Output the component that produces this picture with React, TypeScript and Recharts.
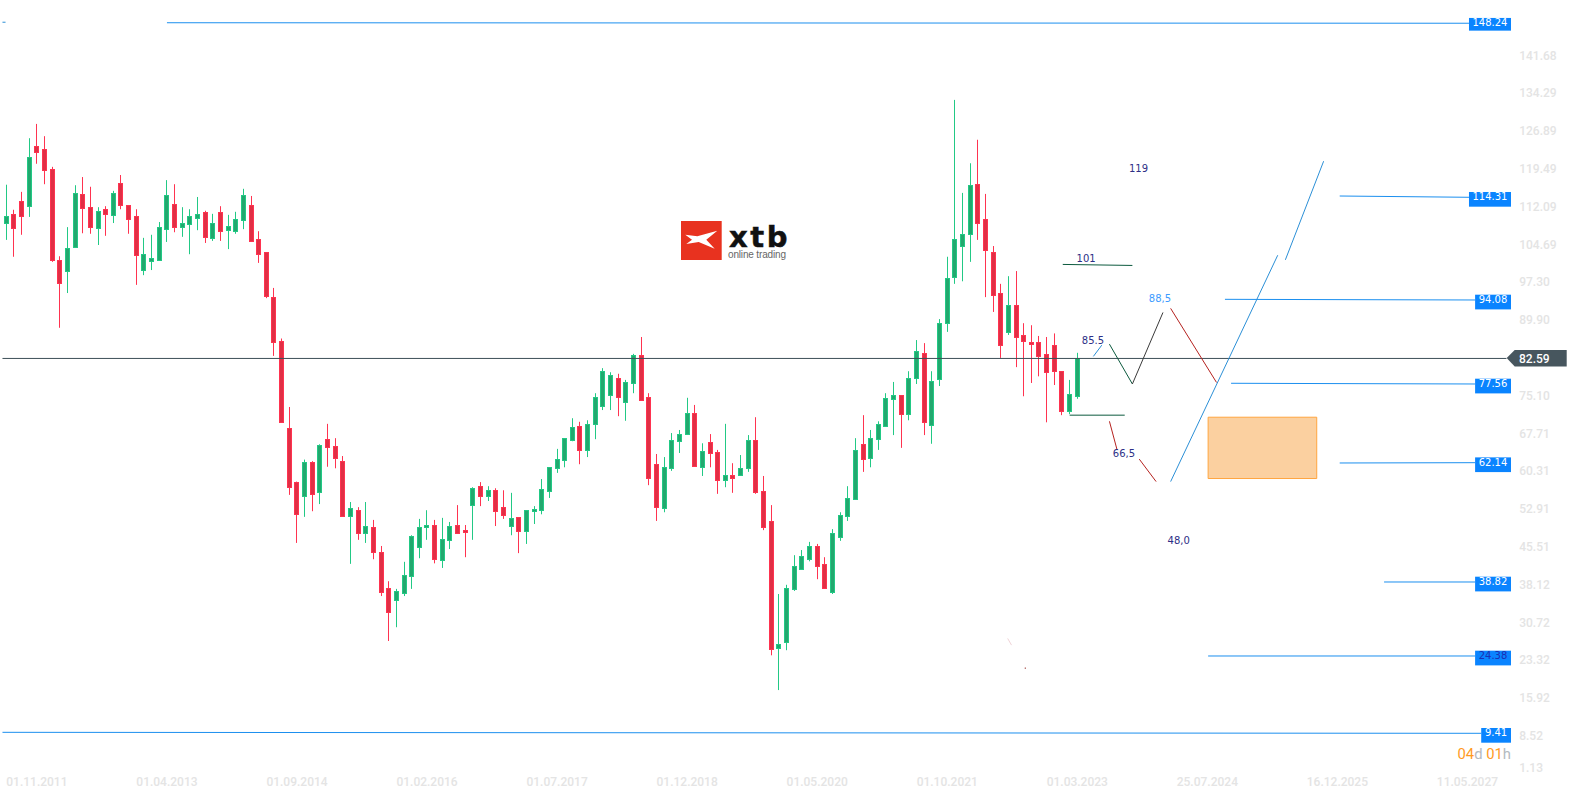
import React from "react";
import {
  ComposedChart,
  Bar,
  XAxis,
  YAxis,
  ReferenceLine,
  ReferenceDot,
  ReferenceArea,
} from "recharts";

// monthly candles, first one is 01.07.2011, last 01.03.2023
const opens = [
  109.1, 110.7, 113.3, 112.4, 124.0, 123.4, 119.5, 101.7, 99.7, 104.4,
  114.6, 112.1, 108.1, 111.7, 110.6, 116.8, 112.5, 110.3, 99.9, 101.6,
  101.8, 107.8, 112.7, 108.3, 108.9, 110.0, 111.1, 106.1, 111.1, 107.7,
  107.5, 109.5, 112.5, 105.8, 103.3, 94.5, 86.0, 68.8, 58.4, 55.6,
  62.2, 56.4, 66.7, 65.3, 62.4, 51.7, 52.8, 48.4, 49.6, 44.7,
  37.5, 35.3, 36.5, 40.0, 45.6, 49.6, 50.0, 43.1, 46.9, 50.0,
  49.0, 53.9, 57.5, 55.5, 56.7, 53.4, 49.8, 51.4, 48.8, 52.6,
  52.8, 56.6, 61.1, 62.6, 66.6, 69.2, 64.5, 69.6, 73.1, 75.3,
  78.6, 73.9, 77.6, 83.1, 74.9, 61.8, 53.3, 61.1, 66.4, 67.8,
  71.9, 61.2, 66.1, 64.1, 58.8, 59.6, 59.6, 61.1, 66.5, 56.5,
  50.6, 25.9, 27.1, 37.4, 41.3, 43.3, 45.7, 42.2, 36.7, 47.6,
  51.7, 54.9, 65.7, 63.1, 66.8, 69.2, 74.5, 75.3, 71.6, 78.7,
  83.5, 69.5, 78.4, 89.5, 98.5, 104.6, 106.8, 116.6, 109.7, 103.3,
  95.4, 87.6, 92.9, 87.0, 85.8, 85.8, 83.3, 85.1, 80.0, 72.3, 75.1,
];
const highs = [
  116.5, 111.6, 115.1, 125.6, 128.4, 126.0, 120.0, 102.5, 108.2, 116.4,
  118.0, 116.1, 112.1, 112.3, 115.3, 118.4, 112.5, 111.7, 106.1, 106.7,
  109.2, 117.4, 116.6, 112.1, 111.7, 114.1, 111.4, 110.8, 112.3, 110.6,
  111.2, 115.7, 114.3, 107.4, 103.3, 96.3, 86.4, 73.0, 58.4, 62.7,
  62.4, 65.7, 69.7, 66.9, 63.4, 54.4, 53.4, 54.4, 50.9, 45.8,
  38.9, 37.4, 42.7, 47.9, 51.1, 52.8, 50.9, 51.3, 50.5, 53.8,
  49.9, 57.3, 58.3, 57.5, 57.1, 56.7, 56.2, 51.4, 52.8, 53.6,
  58.9, 61.2, 64.8, 66.9, 70.8, 70.1, 70.4, 75.7, 80.6, 79.8,
  79.5, 78.3, 83.4, 86.7, 75.7, 63.8, 63.2, 67.9, 68.5, 74.8,
  73.4, 65.9, 67.7, 64.6, 69.7, 62.0, 63.6, 67.5, 71.0, 59.5,
  53.8, 36.4, 38.2, 44.0, 45.0, 46.6, 46.2, 43.6, 49.1, 52.4,
  57.5, 66.9, 71.4, 68.5, 70.2, 75.7, 77.9, 75.3, 80.0, 86.1,
  85.5, 80.0, 90.2, 102.4, 133.1, 114.9, 120.7, 125.3, 114.7, 104.5,
  97.1, 98.6, 99.6, 89.4, 89.0, 86.9, 86.7, 87.4, 80.0, 78.3, 83.6,
];
const lows = [
  105.7, 102.4, 106.7, 110.2, 120.6, 116.6, 101.4, 88.5, 95.3, 104.4,
  107.0, 106.9, 104.7, 106.5, 109.0, 111.7, 106.9, 96.9, 98.8, 99.8,
  101.8, 105.3, 107.2, 106.3, 102.9, 107.6, 105.1, 105.5, 105.5, 103.9,
  106.9, 107.8, 105.3, 101.2, 94.3, 83.0, 70.0, 55.8, 46.4, 51.5,
  52.6, 54.0, 61.3, 61.0, 51.7, 42.3, 47.0, 46.4, 43.2, 36.0,
  27.2, 29.9, 36.0, 37.4, 43.4, 47.0, 42.4, 41.5, 45.2, 48.4,
  43.6, 47.0, 53.6, 54.6, 49.7, 51.1, 47.9, 44.4, 46.2, 50.1,
  52.0, 55.2, 60.1, 61.2, 66.3, 61.8, 63.2, 66.7, 72.4, 72.4,
  71.2, 70.3, 75.7, 74.4, 57.7, 50.7, 52.4, 60.5, 64.0, 67.7,
  61.4, 59.5, 61.2, 56.0, 57.3, 56.2, 59.5, 60.3, 56.0, 48.9,
  24.4, 17.6, 25.4, 37.0, 41.1, 42.8, 39.3, 37.4, 36.4, 46.8,
  50.7, 54.8, 60.3, 61.2, 64.6, 69.1, 67.5, 65.0, 70.4, 77.5,
  67.5, 65.8, 77.1, 87.7, 97.1, 97.6, 101.4, 105.7, 94.5, 91.6,
  82.6, 87.1, 80.8, 75.1, 77.7, 79.0, 70.0, 77.3, 71.4, 71.6, 74.6,
];
const closes = [
  110.3, 108.0, 110.3, 121.9, 123.0, 119.3, 101.8, 97.3, 104.2, 114.8,
  112.0, 108.3, 111.3, 110.8, 114.8, 112.6, 109.7, 102.8, 102.9, 102.1,
  108.2, 114.4, 108.2, 109.1, 110.3, 110.7, 106.3, 109.1, 107.5, 108.4,
  109.7, 114.4, 105.4, 103.0, 94.8, 85.8, 70.0, 57.4, 52.1, 62.2,
  56.0, 65.5, 65.2, 63.1, 51.7, 53.2, 48.4, 49.7, 44.7, 36.7,
  32.9, 36.9, 40.2, 47.7, 49.6, 50.0, 43.3, 47.1, 49.8, 48.4,
  48.6, 57.1, 55.5, 56.7, 52.6, 51.9, 51.2, 48.8, 52.8, 53.0,
  56.9, 61.2, 62.9, 66.9, 69.0, 64.6, 69.6, 74.9, 80.0, 79.2,
  74.9, 77.8, 83.1, 74.4, 59.2, 53.5, 61.2, 66.5, 67.8, 71.8,
  61.5, 64.3, 64.0, 58.8, 59.6, 59.2, 61.0, 66.5, 56.4, 49.6,
  25.7, 26.7, 37.5, 41.8, 43.8, 45.7, 41.9, 37.6, 48.3, 51.8,
  55.1, 64.5, 62.9, 66.9, 69.6, 74.7, 75.3, 71.6, 78.6, 83.9,
  70.1, 78.0, 89.4, 98.2, 105.8, 106.8, 116.4, 109.1, 103.7, 94.9,
  85.2, 92.9, 86.6, 86.0, 85.4, 83.0, 79.8, 80.1, 72.2, 75.5, 82.6,
];

const xTickLabels = [
  "01.11.2011", "01.04.2013", "01.09.2014", "01.02.2016", "01.07.2017", "01.12.2018",
  "01.05.2020", "01.10.2021", "01.03.2023", "25.07.2024", "16.12.2025", "11.05.2027",
];
const yTickValues = [
  141.68, 134.29, 126.89, 119.49, 112.09, 104.69, 97.3, 89.9, 75.1, 67.71,
  60.31, 52.91, 45.51, 38.12, 30.72, 23.32, 15.92, 8.52, 1.13,
];

const lastPrice = 82.59;
// the drawn line sits a hair under the quote
const lastPriceLine = 82.5;

// horizontal levels: label, month where the line starts and ends, price at both ends
const levelLabels = ["148.24", "114.31", "94.08", "77.56", "62.14", "38.82", "24.38", "9.41"];
const levelFrom = [21.0, 174.3, 159.3, 160.1, 174.3, 180.1, 157.1, -0.5];
const levelTo = [191.2, 191.2, 192, 192, 192, 192, 192, 192.8];
const levelStartPrice = [148.2, 114.29, 94.07, 77.64, 62.04, 38.75, 24.27, 9.33];
const levelEndPrice = [148.1, 114.04, 93.94, 77.5, 62.1, 38.75, 24.27, 9.14];

// hand drawn analysis lines, [month, price, month, price]
const blueLines = [
  [142.1, 82.9, 143.2, 85.1],
  [152.2, 58.4, 166.2, 102.7],
  [167.2, 101.8, 172.2, 121.1],
  [-0.5, 148.3, -0.1, 148.3],
];
const greenLines = [
  [138.1, 100.9, 147.2, 100.7],
  [139.0, 71.4, 146.2, 71.4],
  [144.2, 85.3, 147.2, 77.5],
];
const blackLines = [[147.2, 77.5, 151.2, 91.5]];
const redLines = [
  [152.2, 92.3, 158.2, 77.8],
  [144.2, 70.2, 145.2, 64.6],
  [148.1, 62.8, 150.3, 58.4],
];
const faintLines = [[130.9, 27.7, 131.4, 26.4]];

// price notes: text, month, price
const noteTexts = ["119", "101", "88,5", "85.5", "66,5", "48,0"];
const noteMonths = [148.0, 141.15, 150.8, 142.05, 146.1, 153.25];
const notePrices = [119.7, 102.1, 94.3, 86.05, 63.9, 46.8];

const W = 1579;
const H = 799;
const MONTH_SLOTS = 198;
const MARGIN_LEFT = 2.475;
const PLOT_W = MONTH_SLOTS * 7.65;
const AXIS_W = W - MARGIN_LEFT - PLOT_W;

const rows = Array.from({ length: MONTH_SLOTS }, (_, i) =>
  i < opens.length
    ? { idx: i, open: opens[i], high: highs[i], low: lows[i], close: closes[i], range: [lows[i], highs[i]] }
    : { idx: i, range: null }
);

const xTickIdx = xTickLabels.map((_, i) => 4 + 17 * i);

const AXIS_GREY = "#e4e4e4";
const TAG_BLUE = "#0a84ff";
const LINE_BLUE = "#2b8fd6";
const NAVY = "#2d2f86";

function Candle(props: any) {
  const { x, y, width, height, payload } = props;
  if (!payload || payload.open == null || !height) return null;
  const up = payload.close >= payload.open;
  const k = height / (payload.high - payload.low);
  const cx = Math.floor(x + width / 2) + 0.5;
  const top = Math.round(y + (payload.high - Math.max(payload.open, payload.close)) * k) + 0.5;
  const bottom = Math.round(y + (payload.high - Math.min(payload.open, payload.close)) * k) + 0.5;
  const edge = up ? "#22c985" : "#ff3350";
  return (
    <g>
      <line x1={cx} x2={cx} y1={y} y2={y + height} stroke={edge} strokeWidth={1} />
      <rect
        x={cx - 2}
        y={top}
        width={4}
        height={Math.max(bottom - top, 1)}
        fill={up ? "#22a86e" : "#e12f45"}
        stroke={edge}
        strokeWidth={1}
      />
    </g>
  );
}

function XTick({ x, payload }: any) {
  return (
    <text x={x} y={786} textAnchor="middle" fontSize={12} fontWeight={500} fill={AXIS_GREY}>
      {xTickLabels[xTickIdx.indexOf(payload.value)]}
    </text>
  );
}

function YTick({ x, y, payload }: any) {
  return (
    <text x={x} y={Math.min(y, 768.5) + 3.6} textAnchor="start" fontSize={12} fontWeight={500} fill={AXIS_GREY}>
      {payload.value.toFixed(2)}
    </text>
  );
}

function LevelTag({ cx, cy, text }: any) {
  const right = 1511;
  const h = text === "148.24" ? 12.7 : 14.7;
  return (
    <g>
      <rect x={cx} y={cy - 5.3} width={right - cx} height={h} fill={TAG_BLUE} />
      <text
        x={(cx + right) / 2}
        y={cy + 3}
        textAnchor="middle"
        fontFamily="DejaVu Sans"
        fontSize={10}
        fill={text === "24.38" ? "#1a2fb5" : "#fff"}
      >
        {text}
      </text>
    </g>
  );
}

function PriceTag({ cx, cy }: any) {
  const l = 1506.7;
  const r = 1566.7;
  return (
    <g>
      <polygon
        points={`${l},${cy} ${l + 8},${cy - 8} ${r},${cy - 8} ${r},${cy + 8.5} ${l + 8},${cy + 8.5}`}
        fill="#47565e"
      />
      <text x={1519} y={cy + 5} fontSize={12} fontWeight={500} fill="#fff">
        {lastPrice.toFixed(2)}
      </text>
    </g>
  );
}

function NoteText({ cx, cy, text }: any) {
  return (
    <text
      x={cx}
      y={cy + 3.5}
      textAnchor="middle"
      fontFamily="DejaVu Sans"
      fontSize={10}
      fill={text === "88,5" ? "#3d9bff" : NAVY}
    >
      {text}
    </text>
  );
}

function segLine(seg: number[], stroke: string, key: string) {
  return (
    <ReferenceLine
      key={key}
      xAxisId="over"
      ifOverflow="visible"
      stroke={stroke}
      strokeWidth={1}
      segment={[
        { x: seg[0], y: seg[1] },
        { x: seg[2], y: seg[3] },
      ]}
    />
  );
}

function Logo() {
  return (
    <svg width={W} height={H} style={{ position: "absolute", left: 0, top: 0, pointerEvents: "none" }}>
      <rect x={681} y={221} width={40.7} height={39} fill="#e8321f" />
      <polygon
        points="685.3,234.7 697.3,236.3 717.3,230.7 706.3,239.7 714.7,248.7 698.7,242 686.3,244 692,239.7"
        fill="#fff"
      />
      <text
        x={729}
        y={247}
        fontFamily="DejaVu Sans"
        fontWeight={700}
        fontSize={29}
        letterSpacing={2.6}
        stroke="#111"
        strokeWidth={0.5}
        fill="#111"
      >
        xtb
      </text>
      <text x={728} y={257.5} fontFamily="Liberation Sans" fontSize={10} textLength={58} fill="#666">
        online trading
      </text>
      <text x={1511} y={759} textAnchor="end" fontSize={14.8}>
        <tspan fill="#ff9a1f">04</tspan>
        <tspan fill="#b4bac0">d </tspan>
        <tspan fill="#ff9a1f">01</tspan>
        <tspan fill="#b4bac0">h</tspan>
      </text>
    </svg>
  );
}

export default function App() {
  return (
    <div style={{ position: "absolute", left: 0, top: 0, width: W, height: H, fontFamily: "Roboto", background: "#fff" }}>
      <ComposedChart
        width={W}
        height={H}
        data={rows}
        margin={{ top: 0, right: 0, bottom: 0, left: MARGIN_LEFT }}
        style={{ fontFamily: "Roboto" }}
      >
        <XAxis
          dataKey="idx"
          height={19}
          ticks={xTickIdx}
          interval={0}
          axisLine={false}
          tickLine={false}
          tick={<XTick />}
        />
        <XAxis
          xAxisId="over"
          type="number"
          dataKey="idx"
          domain={[-0.5, MONTH_SLOTS - 0.5]}
          allowDataOverflow
          hide
        />
        <YAxis
          orientation="right"
          width={AXIS_W}
          domain={[0, 152.65]}
          allowDataOverflow
          ticks={yTickValues}
          interval={0}
          axisLine={false}
          tickLine={false}
          tickSize={0}
          tickMargin={2}
          tick={<YTick />}
        />
        <Bar dataKey="range" isAnimationActive={false} shape={<Candle />} />

        <ReferenceArea
          xAxisId="over"
          x1={157.1}
          x2={171.3}
          y1={59.0}
          y2={71.0}
          fill="#fbd0a0"
          fillOpacity={1}
          stroke="#ffa53f"
          strokeWidth={1}
          ifOverflow="visible"
        />

        {segLine([-0.5, lastPriceLine, 196.1, lastPriceLine], "#3d4f58", "price")}

        {levelLabels.map((_, i) =>
          segLine([levelFrom[i], levelStartPrice[i], levelTo[i], levelEndPrice[i]], "#1b8fef", `level${i}`)
        )}
        {blueLines.map((s, i) => segLine(s, LINE_BLUE, `blue${i}`))}
        {greenLines.map((s, i) => segLine(s, "#0c5a3e", `green${i}`))}
        {blackLines.map((s, i) => segLine(s, "#3a3a3a", `black${i}`))}
        {redLines.map((s, i) => segLine(s, "#b5221f", `red${i}`))}
        {faintLines.map((s, i) => segLine(s, "#f0d4d8", `faint${i}`))}

        <ReferenceDot xAxisId="over" x={133.2} y={21.9} r={0.7} fill="#8c1d18" stroke="none" ifOverflow="visible" />

        {levelLabels.map((t, i) => (
          <ReferenceDot
            key={t}
            xAxisId="over"
            x={levelTo[i]}
            y={levelEndPrice[i]}
            ifOverflow="visible"
            shape={(p: any) => <LevelTag cx={p.cx} cy={p.cy} text={t} />}
          />
        ))}
        {noteTexts.map((t, i) => (
          <ReferenceDot
            key={t}
            xAxisId="over"
            x={noteMonths[i]}
            y={notePrices[i]}
            ifOverflow="visible"
            shape={(p: any) => <NoteText cx={p.cx} cy={p.cy} text={t} />}
          />
        ))}
        <ReferenceDot
          xAxisId="over"
          x={196.1}
          y={lastPrice}
          ifOverflow="visible"
          shape={(p: any) => <PriceTag cx={p.cx} cy={p.cy} />}
        />
      </ComposedChart>
      <Logo />
    </div>
  );
}
